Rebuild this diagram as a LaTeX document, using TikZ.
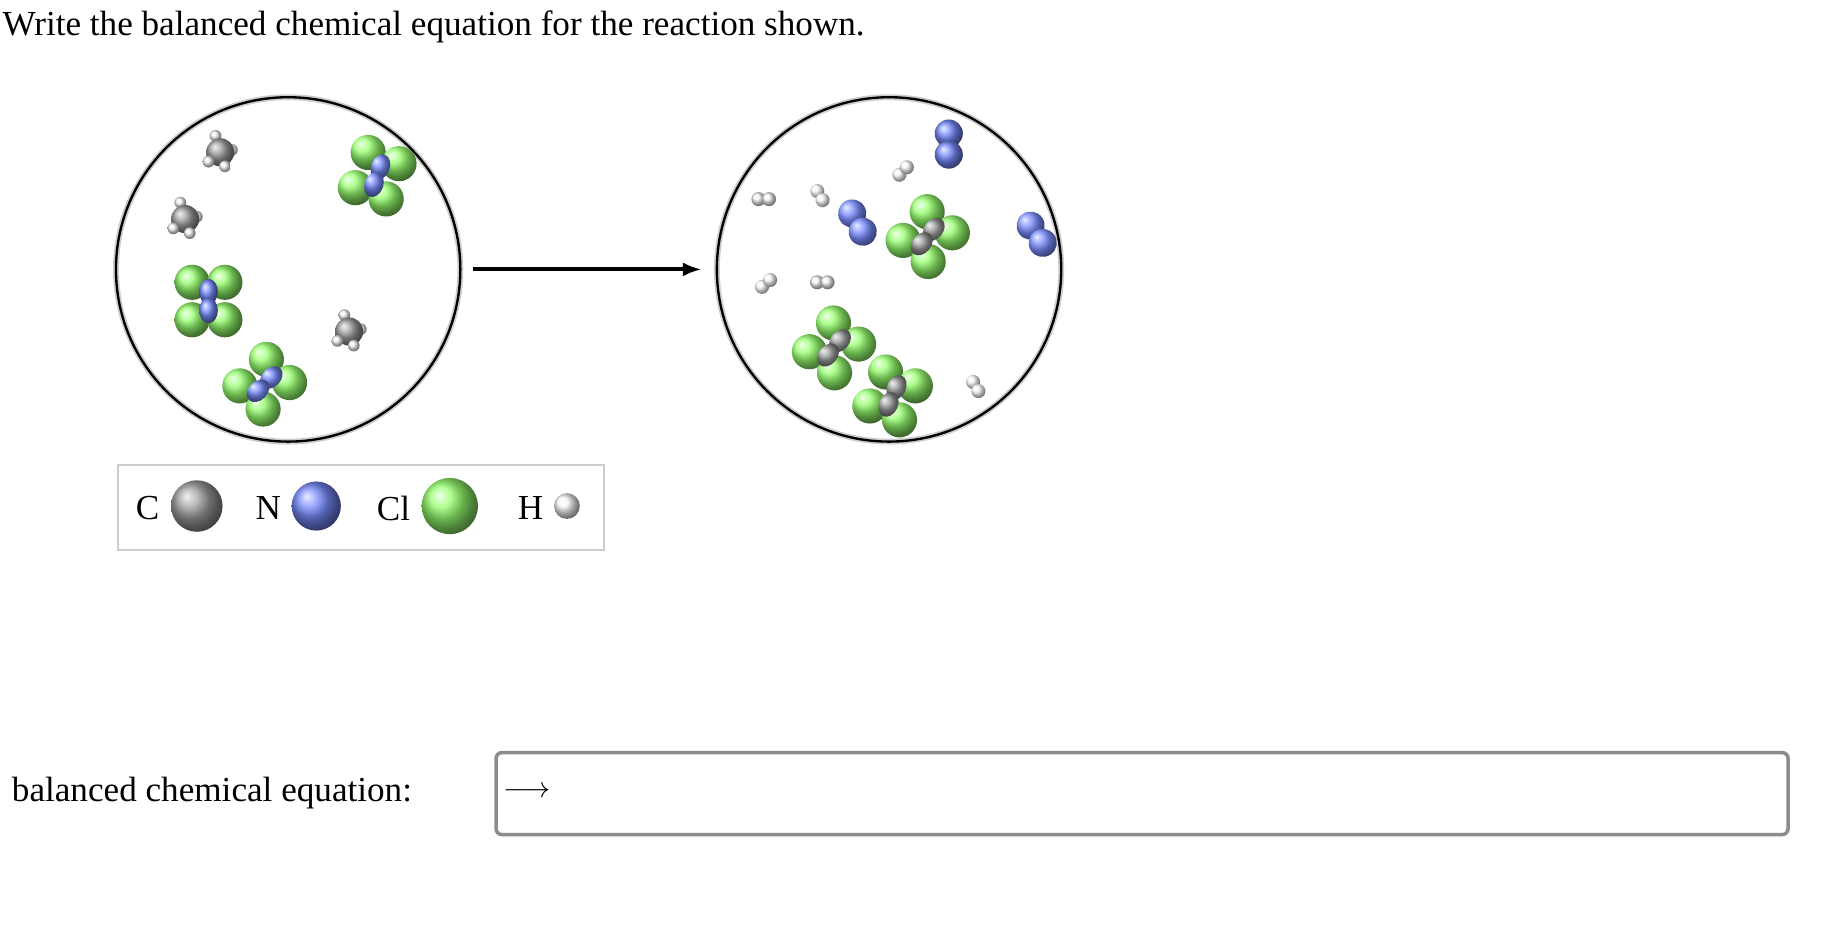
\documentclass[tikz,border=0pt]{standalone}
\usepackage{fontspec}
\setmainfont{Liberation Serif}
\usetikzlibrary{arrows.meta,calc}
\definecolor{clc}{RGB}{150,255,110}
\definecolor{nc}{RGB}{120,140,255}
\definecolor{cc}{RGB}{160,160,160}
\definecolor{hc}{RGB}{245,245,245}
\newcommand\atm[4]{\shade[ball color=#4] (#1pt,#2pt) circle (#3pt);}
\newcommand\chf[2]{\begin{scope}[shift={(#1pt,-#2pt)}]
\atm{-4}{14}{5}{hc}\atm{10}{2}{5}{hc}\atm{0}{0}{12}{cc}\atm{-10}{-8}{5}{hc}\atm{4}{-12}{5}{hc}\end{scope}}
\newcommand\xcl[4]{\begin{scope}[shift={(#1pt,-#2pt)},rotate=#3]
\atm{-14}{16}{15}{clc}\atm{14}{16}{15}{clc}\atm{-14}{-16}{15}{clc}\atm{14}{-16}{15}{clc}
\shade[ball color=#4] (0pt,8pt) ellipse (8pt and 11pt);
\shade[ball color=#4] (0pt,-8pt) ellipse (8pt and 11pt);\end{scope}}
\newcommand\ntwo[3]{\begin{scope}[shift={(#1pt,-#2pt)},rotate=#3]
\atm{0}{9}{12}{nc}\atm{0}{-9}{12}{nc}\end{scope}}
\newcommand\htwo[3]{\begin{scope}[shift={(#1pt,-#2pt)},rotate=#3]
\atm{-4.5}{0}{6}{hc}\atm{4.5}{0}{6}{hc}\end{scope}}
\begin{document}
\begin{tikzpicture}[x=1pt,y=1pt,
  vessel/.style={circle,draw=black,line width=2pt,minimum size=294pt,inner sep=0pt},
  lbl/.style={font=\fontsize{30}{33}\selectfont,inner sep=0pt}]
\useasboundingbox[fill=white] (0,0) rectangle (1570,-789.7);
\node[lbl,anchor=base west] (title) at (2,-30) {Write the balanced chemical equation for the reaction shown.};
\node[vessel,draw=gray!40,line width=5pt] at (246,-230) {};
\node[vessel] (left) at (246,-230) {};
\node[vessel,draw=gray!40,line width=5pt] at (759,-230) {};
\node[vessel] (right) at (759,-230) {};
\draw[line width=3.5pt,-{Latex[length=16pt,width=12pt]}] ($(left.east)+(10,0)$) -- ($(right.west)+(-12,0)$);
\chf{188}{130}\chf{158}{187}\chf{298}{283}
\xcl{322}{150}{-20}{nc}\xcl{178}{257}{0}{nc}\xcl{226}{328}{-45}{nc}
\htwo{652}{170}{0}\htwo{700}{167}{-60}\htwo{771}{146}{45}\htwo{654}{242}{40}\htwo{702}{241}{0}\htwo{833}{330}{-60}
\ntwo{810}{123}{0}\ntwo{732}{190}{30}\ntwo{885}{200}{35}
\xcl{792}{202}{-40}{cc}\xcl{712}{297}{-40}{cc}\xcl{762}{338}{-25}{cc}
\node[draw=gray!40,line width=1.5pt,minimum width=415pt,minimum height=73pt,anchor=north west] (legend) at (100,-396) {};
\node[lbl] (tc) at (126,-434) {C};\atm{168}{-432}{22}{cc}
\node[lbl] (tn) at (229,-434) {N};\atm{270}{-432}{21}{nc}
\node[lbl] (tcl) at (336,-434) {Cl};\atm{384}{-432}{24}{clc}
\node[lbl] (th) at (453,-434) {H};\atm{484}{-432}{11}{hc}
\node[lbl,anchor=base west] (eq) at (10,-684) {balanced chemical equation:};
\node[draw=gray!90,line width=3pt,rounded corners=5pt,minimum width=1103pt,minimum height=70pt,anchor=north west] (box) at (422,-641) {};
\node[lbl,anchor=west] (arr) at (430,-676) {$\longrightarrow$};
\end{tikzpicture}
\end{document}
